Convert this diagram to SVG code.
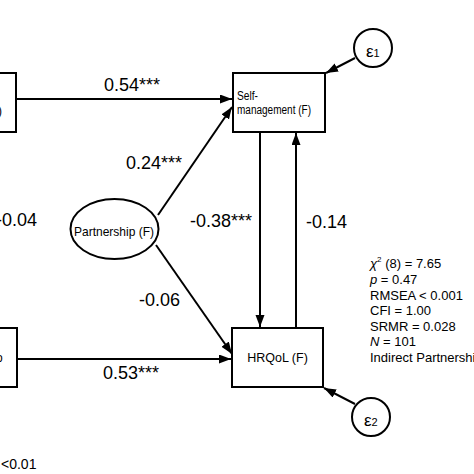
<svg xmlns="http://www.w3.org/2000/svg" width="474" height="474" viewBox="0 0 474 474">
<defs>
<marker id="ah" markerUnits="userSpaceOnUse" markerWidth="13" markerHeight="10" refX="12" refY="4.5" orient="auto">
<path d="M0,0 L12,4.5 L0,9 z" fill="#000"/>
</marker>
<style>
.box{fill:#fff;stroke:#000;stroke-width:2}
.ln{stroke:#000;stroke-width:2;fill:none;marker-end:url(#ah)}
.t{font-family:"Liberation Sans",Arial,sans-serif;fill:#000}
.coef{font-size:18px}
.st{font-size:13px}
</style>
</defs>
<rect width="474" height="474" fill="#fff"/>
<g id="connectors">
<line class="ln" x1="16" y1="99" x2="232" y2="99"/>
<line class="ln" x1="18" y1="359" x2="231" y2="359"/>
<line class="ln" x1="158" y1="215" x2="232" y2="107"/>
<line class="ln" x1="156" y1="245" x2="232" y2="354"/>
<line class="ln" x1="260" y1="132" x2="260" y2="327"/>
<line class="ln" x1="296" y1="328" x2="296" y2="133"/>
<line class="ln" x1="355" y1="58" x2="326" y2="73"/>
<line class="ln" x1="355" y1="404" x2="324" y2="388"/>
</g>
<g id="labels" class="t coef">
<text x="104" y="91">0.54***</text>
<text x="126" y="169">0.24***</text>
<text x="37" y="226" text-anchor="end">-0.04</text>
<text x="190" y="227">-0.38***</text>
<text x="139" y="306">-0.06</text>
<text x="306" y="228">-0.14</text>
<text x="103" y="379">0.53***</text>
</g>
<g id="node-left-top">
<rect class="box" x="-10" y="73" width="26" height="59"/>
<text class="t" x="-2" y="115" font-size="12">)</text>
</g>
<g id="node-left-bottom">
<rect class="box" x="-10" y="328" width="27" height="59"/>
<text class="t" x="-4" y="362" font-size="12">o</text>
</g>
<g id="node-selfmanagement">
<rect class="box" x="233" y="73" width="92" height="59"/>
<text class="t" x="237" y="100" font-size="12" textLength="21" lengthAdjust="spacingAndGlyphs">Self-</text>
<text class="t" x="237" y="114" font-size="12" textLength="74" lengthAdjust="spacingAndGlyphs">management (F)</text>
</g>
<g id="node-hrqol">
<rect class="box" x="232" y="328" width="91" height="59"/>
<text class="t" x="277.5" y="362" font-size="12.5" text-anchor="middle">HRQoL (F)</text>
</g>
<g id="node-partnership">
<ellipse cx="114.5" cy="229" rx="44" ry="30" fill="#fff" stroke="#000" stroke-width="2"/>
<text class="t" x="74" y="236" font-size="13" textLength="80" lengthAdjust="spacingAndGlyphs">Partnership (F)</text>
</g>
<g id="node-e1">
<circle cx="373" cy="48" r="19" fill="#fff" stroke="#000" stroke-width="2"/>
<text class="t" x="366" y="57" font-size="17">ε<tspan font-size="11">1</tspan></text>
</g>
<g id="node-e2">
<circle cx="371" cy="417" r="19" fill="#fff" stroke="#000" stroke-width="2"/>
<text class="t" x="364" y="426" font-size="17">ε<tspan font-size="11">2</tspan></text>
</g>
<g id="stats" class="t st">
<text x="370" y="268"><tspan font-style="italic">χ</tspan><tspan font-size="8" dy="-6">2</tspan><tspan dy="6"> (8) = 7.65</tspan></text>
<text x="370" y="284"><tspan font-style="italic">p</tspan> = 0.47</text>
<text x="370" y="300">RMSEA &lt; 0.001</text>
<text x="370" y="315">CFI = 1.00</text>
<text x="370" y="331">SRMR = 0.028</text>
<text x="370" y="346"><tspan font-style="italic">N</tspan> = 101</text>
<text x="370" y="362">Indirect Partnership</text>
</g>
<text class="t" x="1" y="469" font-size="14">&lt;0.01</text>
</svg>
